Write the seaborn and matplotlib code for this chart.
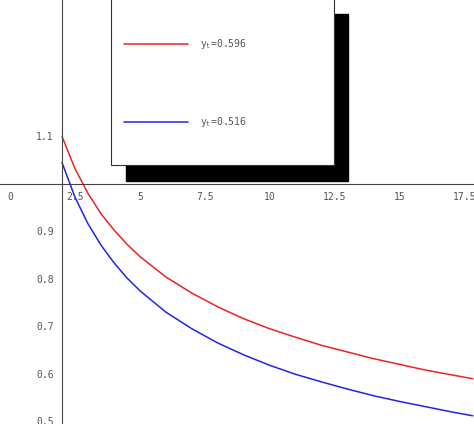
import matplotlib
matplotlib.use('Agg')
import matplotlib.pyplot as plt
import seaborn as sns
from matplotlib.patches import Rectangle
from matplotlib.lines import Line2D

x_vals = [2, 2.5, 3, 3.5, 4, 4.5, 5, 6, 7, 8, 9, 10, 11, 12, 13, 14, 15, 16, 17, 17.8]
red_vals = [1.100, 1.032, 0.980, 0.937, 0.903, 0.873, 0.847, 0.804, 0.770, 0.741,
            0.716, 0.695, 0.677, 0.660, 0.646, 0.632, 0.620, 0.608, 0.598, 0.590]
blue_vals = [1.045, 0.972, 0.916, 0.871, 0.834, 0.802, 0.775, 0.730, 0.695, 0.665,
             0.640, 0.618, 0.599, 0.583, 0.568, 0.554, 0.542, 0.531, 0.520, 0.512]
labels = ["y$_\\mathregular{t}$=0.596", "y$_\\mathregular{t}$=0.516"]
x_ticks = [0, 2.5, 5, 7.5, 10, 12.5, 15, 17.5]
x_tick_labels = ["0", "2.5", "5", "7.5", "10", "12.5", "15", "17.5"]
y_ticks = [0.5, 0.6, 0.7, 0.8, 0.9, 1.1]

sns.set_style("white")
W, H = 474, 424
fig = plt.figure(figsize=(W / 100, H / 100), dpi=100)
ax = fig.add_axes([0, 0, 1, 1])

sns.lineplot(x=x_vals, y=red_vals, color="#ee2222", lw=1.1, ax=ax)
sns.lineplot(x=x_vals, y=blue_vals, color="#2222ee", lw=1.1, ax=ax)

ax.set_xlim(-0.385, 17.85)
ax.set_ylim(0.4947, 1.387)
for s in ["top", "right"]:
    ax.spines[s].set_visible(False)
ax.spines["left"].set_position(("data", 2))
ax.spines["bottom"].set_position(("data", 1.0))
for s in ["left", "bottom"]:
    ax.spines[s].set_linewidth(0.8)
    ax.spines[s].set_color("#444444")
ax.set_xticks(x_ticks)
ax.set_xticklabels(x_tick_labels)
ax.set_yticks(y_ticks)
ax.tick_params(direction="inout", length=5, width=0.7, colors="#444444",
               labelsize=7, labelcolor="#555555")
for t in ax.get_xticklabels() + ax.get_yticklabels():
    t.set_family("DejaVu Sans Mono")
ax.set_facecolor("white")

# legend box with drop shadow (pixel coords)
def fr(x0, y0, x1, y1):
    return (x0 / W, 1 - y1 / H), (x1 - x0) / W, (y1 - y0) / H

xy, w, h = fr(126, 14, 348, 181)
fig.add_artist(Rectangle(xy, w, h, transform=fig.transFigure, color="black", zorder=5))
xy, w, h = fr(111, -2, 334, 165)
fig.add_artist(Rectangle(xy, w, h, transform=fig.transFigure, facecolor="white",
                         edgecolor="#333333", lw=0.8, zorder=6))
for yp, col, lab in [(44, "#ee2222", labels[0]), (122, "#2222ee", labels[1])]:
    fig.add_artist(Line2D([124 / W, 188 / W], [1 - yp / H] * 2, color=col, lw=1.1,
                          transform=fig.transFigure, zorder=7))
    fig.text(200 / W, 1 - yp / H, lab, fontsize=7, color="#555555",
             family="DejaVu Sans Mono", va="center", zorder=8)

fig.savefig("out.png", dpi=100)
